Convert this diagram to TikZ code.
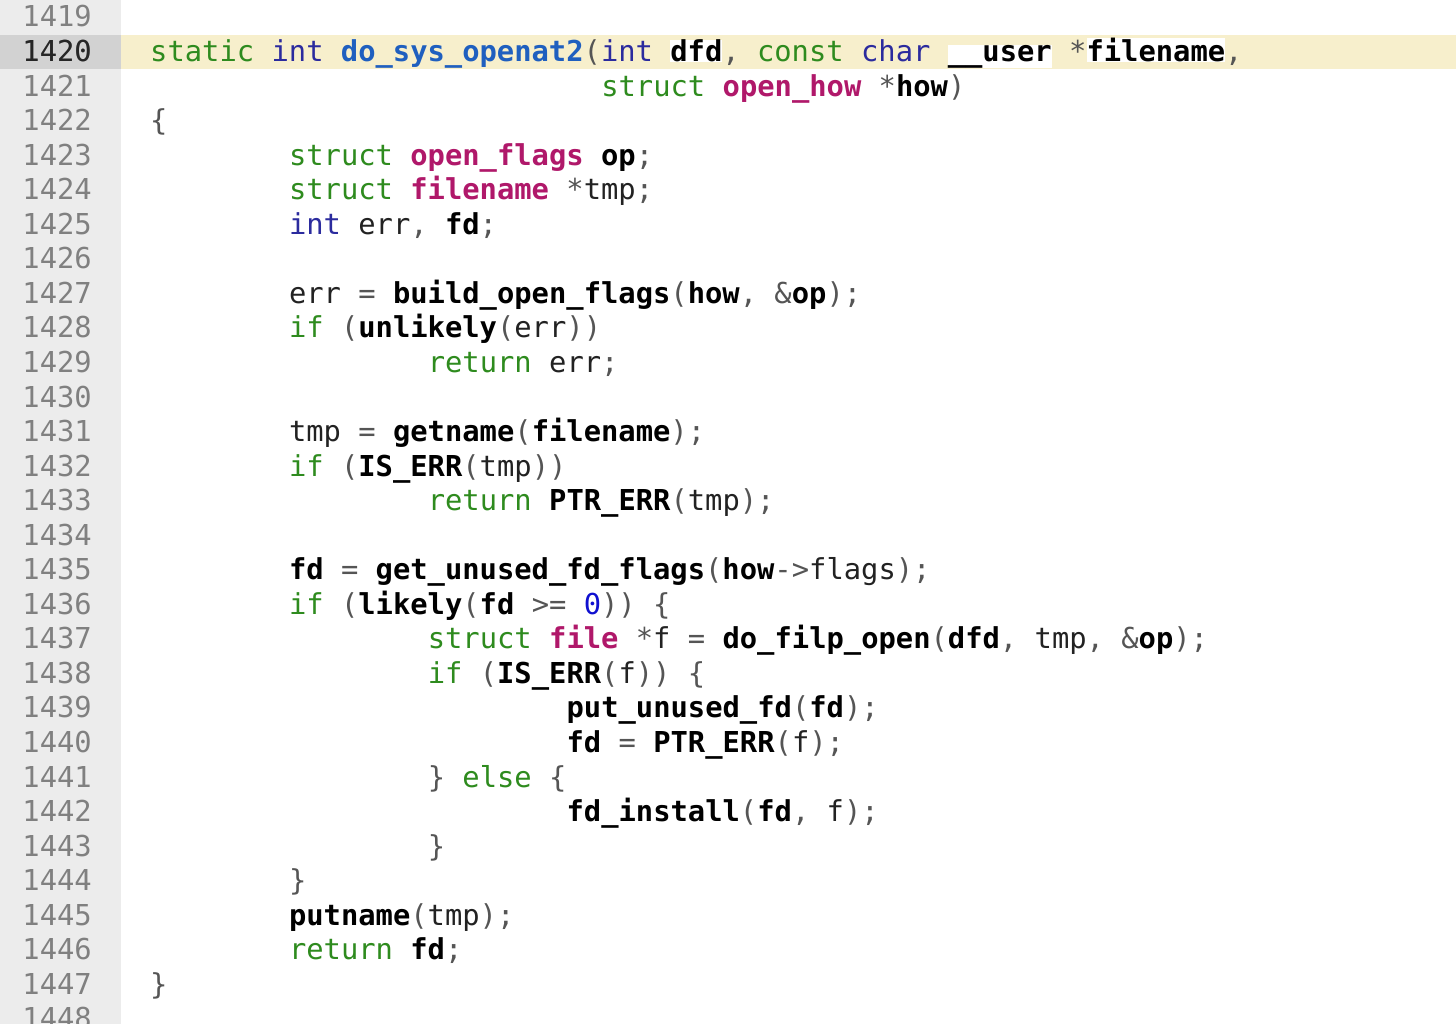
\documentclass[tikz,border=0pt]{standalone}
\usepackage{fontspec}
\newfontfamily\codefont{DejaVu Sans Mono}
\definecolor{kwc}{HTML}{2E8B1E}
\definecolor{tyc}{HTML}{2B2B9E}
\definecolor{fnc}{HTML}{1F5FBF}
\definecolor{stc}{HTML}{B0186A}
\definecolor{puc}{HTML}{555555}
\definecolor{txc}{HTML}{222222}
\definecolor{numc}{HTML}{1010D0}
\definecolor{gut}{HTML}{ECECEC}
\definecolor{gutsel}{HTML}{D2D2D2}
\definecolor{hlrow}{HTML}{F7EFCC}
\newcommand\kw[1]{\textcolor{kwc}{#1}}
\newcommand\ty[1]{\textcolor{tyc}{#1}}
\newcommand\fn[1]{\textcolor{fnc}{\bfseries #1}}
\newcommand\st[1]{\textcolor{stc}{\bfseries #1}}
\newcommand\pu[1]{\textcolor{puc}{#1}}
\newcommand\nm[1]{\textcolor{numc}{#1}}
\newcommand\bd[1]{{\setlength\fboxsep{0pt}\colorbox{white}{\textcolor{black}{\bfseries #1}}}}
\tikzset{code/.style={inner sep=0pt,anchor=base west,text=txc,font=\codefont\fontsize{28.8}{34}\selectfont},
lnum/.style={inner sep=0pt,anchor=base east,text=black!50,font=\codefont\fontsize{28.8}{34}\selectfont}}
\newcommand\cl[3]{\node[code] (c#1) at ({150+#2*17.35},{1024-27-(#1-1419)*34.55}) {#3};}
\begin{document}
\begin{tikzpicture}[x=1pt,y=1pt]
\useasboundingbox (0,0) rectangle (1456,1024);
\clip (0,0) rectangle (1456,1024);
\fill[white] (0,0) rectangle (1456,1024);
\fill[gut] (0,0) rectangle (121,1024);
\fill[hlrow] (121,{1024-35}) rectangle (1456,{1024-69.5});
\fill[gutsel] (0,{1024-35}) rectangle (121,{1024-69.5});
\foreach \n in {1419,...,1448}{
  \node[lnum] (n\n) at (92,{1024-27-(\n-1419)*34.55}) {\n};
}
\node[lnum,text=black!85] at (92,{1024-27-34.55}) {1420};
\cl{1420}{0}{\kw{static} \ty{int} \fn{do\_sys\_openat2}\pu{(}\ty{int} \bd{dfd}\pu{,} \kw{const} \ty{char} \bd{\_\_user} \pu{*}\bd{filename}\pu{,}}
\cl{1421}{26}{\kw{struct} \st{open\_how} \pu{*}\bd{how}\pu{)}}
\cl{1422}{0}{\pu{\{}}
\cl{1423}{8}{\kw{struct} \st{open\_flags} \bd{op}\pu{;}}
\cl{1424}{8}{\kw{struct} \st{filename} \pu{*}tmp\pu{;}}
\cl{1425}{8}{\ty{int} err\pu{,} \bd{fd}\pu{;}}
\cl{1427}{8}{err \pu{=} \bd{build\_open\_flags}\pu{(}\bd{how}\pu{,} \pu{\&}\bd{op}\pu{);}}
\cl{1428}{8}{\kw{if} \pu{(}\bd{unlikely}\pu{(}err\pu{))}}
\cl{1429}{16}{\kw{return} err\pu{;}}
\cl{1431}{8}{tmp \pu{=} \bd{getname}\pu{(}\bd{filename}\pu{);}}
\cl{1432}{8}{\kw{if} \pu{(}\bd{IS\_ERR}\pu{(}tmp\pu{))}}
\cl{1433}{16}{\kw{return} \bd{PTR\_ERR}\pu{(}tmp\pu{);}}
\cl{1435}{8}{\bd{fd} \pu{=} \bd{get\_unused\_fd\_flags}\pu{(}\bd{how}\pu{->}flags\pu{);}}
\cl{1436}{8}{\kw{if} \pu{(}\bd{likely}\pu{(}\bd{fd} \pu{>=} \nm{0}\pu{))} \pu{\{}}
\cl{1437}{16}{\kw{struct} \st{file} \pu{*}f \pu{=} \bd{do\_filp\_open}\pu{(}\bd{dfd}\pu{,} tmp\pu{,} \pu{\&}\bd{op}\pu{);}}
\cl{1438}{16}{\kw{if} \pu{(}\bd{IS\_ERR}\pu{(}f\pu{))} \pu{\{}}
\cl{1439}{24}{\bd{put\_unused\_fd}\pu{(}\bd{fd}\pu{);}}
\cl{1440}{24}{\bd{fd} \pu{=} \bd{PTR\_ERR}\pu{(}f\pu{);}}
\cl{1441}{16}{\pu{\}} \kw{else} \pu{\{}}
\cl{1442}{24}{\bd{fd\_install}\pu{(}\bd{fd}\pu{,} f\pu{);}}
\cl{1443}{16}{\pu{\}}}
\cl{1444}{8}{\pu{\}}}
\cl{1445}{8}{\bd{putname}\pu{(}tmp\pu{);}}
\cl{1446}{8}{\kw{return} \bd{fd}\pu{;}}
\cl{1447}{0}{\pu{\}}}
\end{tikzpicture}
\end{document}
